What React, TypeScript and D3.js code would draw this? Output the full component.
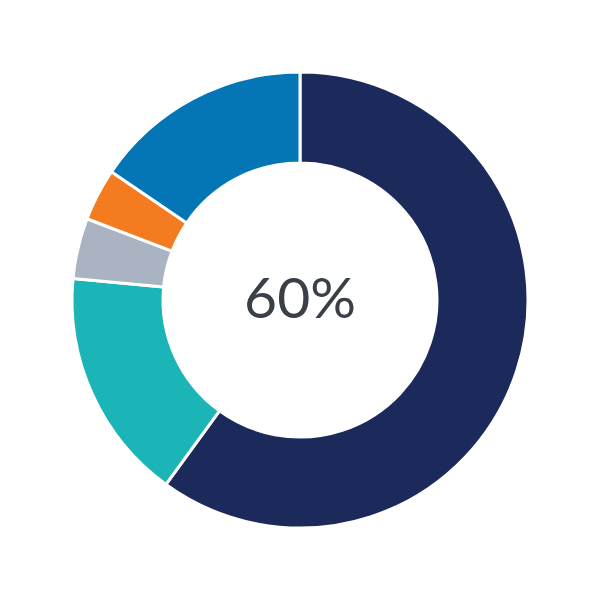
import { pie, arc, PieArcDatum } from "d3";

const LABELS = ["Navy", "Teal", "Gray", "Orange", "Blue"];
const VALUES = [60, 16.5, 4.3, 3.7, 15.5];
const COLORS = ["#1b2a5b", "#1cb5b7", "#a9b3c1", "#f47b20", "#0476b5"];
const CENTER_LABEL = "60%";

const W = 600, H = 600, CX = 300, CY = 300, R_OUT = 228, R_IN = 137;

export default function App() {
  const slices = pie<number>().sort(null)(VALUES);
  const arcGen = arc<PieArcDatum<number>>().innerRadius(R_IN).outerRadius(R_OUT);
  return (
    <svg width={W} height={H} style={{ position: "absolute", left: 0, top: 0 }}>
      <rect width={W} height={H} fill="#fff" />
      <g transform={`translate(${CX},${CY})`}>
        {slices.map((s, i) => (
          <path key={LABELS[i]} d={arcGen(s) ?? ""} fill={COLORS[i]} stroke="#fff" strokeWidth={3} strokeLinejoin="round" />
        ))}
        <text y={18} textAnchor="middle" fontFamily="Lato, sans-serif" fontWeight={400} fontSize={57} fill="#3a4048">
          {CENTER_LABEL}
        </text>
      </g>
    </svg>
  );
}
